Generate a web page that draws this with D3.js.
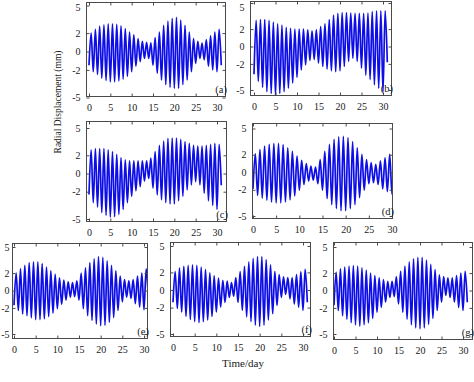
<!DOCTYPE html>
<html><head><meta charset="utf-8">
<script src="https://cdn.jsdelivr.net/npm/d3@7"></script>
<style>
body{margin:0;background:#fff}
svg{display:block}
text{font-family:"Liberation Serif","Times New Roman",serif;fill:#1a1a1a}
</style>
</head><body>
<svg id="chart" width="474" height="382"></svg>
<script>
// ---------- data ----------
const panelNames = ["(a)", "(b)", "(c)", "(d)", "(e)", "(f)", "(g)"];
const xTickValues = [0, 5, 10, 15, 20, 25, 30];
const yTickValues = [-5, -2, 0, 2, 5];
const xTitle = "Time/day";
const yTitle = "Radial Displacement (mm)";

// times (days) of the wave crests and troughs
const peakDays = [0.5,1.5,2.5,3.5,4.5,5.5,6.5,7.5,8.5,9.5,10.5,11.5,12.5,13.5,14.5,15.5,16.5,17.5,18.5,19.5,20.5,21.5,22.5,23.5,24.5,25.5,26.5,27.5,28.5,29.5,30.5];
const troughDays = [1,2,3,4,5,6,7,8,9,10,11,12,13,14,15,16,17,18,19,20,21,22,23,24,25,26,27,28,29,30];
const edgeDays = [0, 31];

// displacement (mm) at crests, troughs, and [start, end] for each panel
const peaksA = [2.0,2.4,2.75,2.9,3.0,3.0,2.95,2.8,2.5,2.1,1.8,1.4,1.1,1.0,0.95,1.5,2.1,2.85,3.3,3.6,3.7,3.4,2.85,2.1,1.4,1.1,0.9,1.3,1.7,2.1,2.4];
const troughsA = [-2.2,-2.5,-2.9,-3.15,-3.3,-3.3,-3.2,-3.0,-2.7,-2.2,-1.6,-1.1,-0.75,-0.75,-1.5,-2.35,-3.1,-3.6,-3.9,-4.0,-4.0,-3.6,-3.1,-2.2,-1.3,-0.75,-0.9,-1.6,-2.0,-2.2];
const edgesA = [-1.5, -1.5];

const peaksB = [3.0,3.1,3.1,3.0,2.8,2.6,2.45,2.2,2.1,2.0,2.0,2.0,1.9,1.8,1.9,2.3,2.6,3.1,3.6,3.8,3.9,3.9,3.85,3.8,3.8,3.8,3.85,4.0,4.1,4.1,4.1];
const troughsB = [-4.0,-4.7,-5.2,-5.4,-5.6,-5.4,-5.2,-4.8,-4.2,-3.55,-2.7,-2.1,-1.6,-1.5,-1.9,-2.3,-2.6,-2.8,-2.9,-2.8,-2.3,-1.7,-1.35,-1.7,-2.5,-3.3,-3.8,-4.4,-4.8,-5.2];
const edgesB = [-3.2, -1.8];

const peaksC = [2.6,2.75,2.75,2.75,2.6,2.4,2.1,1.75,1.5,1.4,1.4,1.4,1.4,1.4,1.7,2.4,3.1,3.55,3.85,3.9,3.9,3.75,3.5,3.3,3.1,3.0,3.0,3.1,3.2,3.3,3.2];
const troughsC = [-3.2,-3.7,-4.3,-4.6,-4.8,-4.75,-4.5,-3.95,-3.2,-2.5,-1.9,-1.45,-0.85,-0.55,-1.6,-2.35,-2.9,-3.2,-3.35,-3.35,-3.0,-2.5,-1.8,-1.25,-0.9,-1.25,-2.15,-3.0,-3.5,-3.95];
const edgesC = [-2.3, -1.3];

const peaksD = [2.1,2.6,3.0,3.2,3.3,3.3,3.15,2.8,2.4,1.85,1.35,1.0,0.7,0.6,1.45,2.4,3.2,3.75,4.05,4.1,3.95,3.5,2.8,2.05,1.45,1.1,0.9,1.3,1.65,2.05,2.25];
const troughsD = [-2.65,-2.95,-3.2,-3.4,-3.5,-3.5,-3.4,-3.15,-2.7,-2.05,-1.4,-1.0,-0.9,-1.3,-2.05,-3.0,-3.7,-4.15,-4.4,-4.4,-4.15,-3.7,-2.9,-2.05,-1.3,-1.2,-1.4,-1.9,-2.2,-2.5];
const edgesD = [-1.9, 0.0];

const peaksE = [2.0,2.5,2.9,3.2,3.3,3.3,3.1,2.7,2.25,1.85,1.45,1.2,1.0,0.9,1.1,2.0,2.6,3.2,3.65,3.9,3.8,3.4,2.9,2.25,1.65,1.25,1.1,1.25,1.65,2.0,2.5];
const troughsE = [-2.3,-2.7,-2.9,-3.15,-3.35,-3.35,-3.25,-3.0,-2.6,-2.1,-1.6,-1.1,-0.75,-0.7,-1.1,-2.1,-2.9,-3.45,-3.85,-4.05,-4.0,-3.65,-3.1,-2.3,-1.3,-0.75,-0.9,-1.5,-1.9,-2.2];
const edgesE = [-1.7, -1.1];

const peaksF = [2.1,2.5,2.7,2.8,2.85,2.8,2.6,2.35,1.95,1.6,1.35,1.1,1.0,0.85,1.4,2.1,2.7,3.2,3.6,3.8,3.8,3.45,2.85,2.1,1.75,1.5,1.4,1.4,1.75,2.05,2.35];
const troughsF = [-2.1,-2.5,-3.0,-3.35,-3.6,-3.7,-3.6,-3.4,-3.0,-2.5,-1.95,-1.4,-0.85,-0.7,-1.4,-2.3,-3.05,-3.6,-4.0,-4.15,-4.0,-3.4,-2.7,-1.75,-0.85,-0.5,-1.0,-1.6,-1.95,-2.3];
const edgesF = [-1.4, -1.4];

const peaksG = [2.1,2.5,2.7,2.8,2.85,2.8,2.6,2.35,2.0,1.7,1.45,1.25,1.05,1.05,1.6,2.2,2.8,3.3,3.65,3.8,3.8,3.5,3.0,2.4,1.8,1.6,1.45,1.45,1.7,2.0,2.2];
const troughsG = [-2.3,-2.9,-3.3,-3.7,-3.95,-4.1,-3.95,-3.7,-3.2,-2.5,-1.95,-1.35,-0.8,-0.7,-1.55,-2.5,-3.3,-3.95,-4.3,-4.4,-4.3,-3.9,-3.2,-2.3,-1.35,-0.55,-0.8,-1.35,-1.95,-2.3];
const edgesG = [-1.7, -1.35];

const seriesPeaks = [peaksA, peaksB, peaksC, peaksD, peaksE, peaksF, peaksG];
const seriesTroughs = [troughsA, troughsB, troughsC, troughsD, troughsE, troughsF, troughsG];
const seriesEdges = [edgesA, edgesB, edgesC, edgesD, edgesE, edgesF, edgesG];

// ---------- layout (pixels) ----------
const layout = [
  {L:86,  T:2,   R:226, B:97,  x0:89,  x30:217, y5:5.5,  ym5:97.5, pad:6},
  {L:250, T:1,   R:392, B:96,  x0:254, x30:383, y5:3,    ym5:90,   pad:6},
  {L:86,  T:121, R:227, B:222, x0:89,  x30:217, y5:128,  ym5:219,  pad:6},
  {L:252, T:123, R:393, B:219, x0:253, x30:392, y5:128.5,ym5:216,  pad:6},
  {L:12,  T:243, R:148, B:339, x0:14,  x30:144, y5:247,  ym5:334,  pad:3},
  {L:170, T:242, R:311, B:337, x0:173, x30:303, y5:246,  ym5:334,  pad:6},
  {L:333, T:242, R:473, B:340, x0:334, x30:463, y5:247,  ym5:334,  pad:6}
];

const svg = d3.select("#chart");
const blue = "#0d0de8";
const frameColor = "#4a4a4a";
const labelFont = "Liberation Serif, Times New Roman, serif";

layout.forEach((p, k) => {
  const x = d3.scaleLinear().domain([0, 30]).range([p.x0, p.x30]);
  const y = d3.scaleLinear().domain([-5, 5]).range([p.ym5, p.y5]);
  const g = svg.append("g");

  const clipId = "clip" + k;
  svg.append("clipPath").attr("id", clipId)
    .append("rect").attr("x", p.L).attr("y", p.T)
    .attr("width", p.R - p.L).attr("height", p.B - p.T);

  const pk = seriesPeaks[k], tr = seriesTroughs[k], ed = seriesEdges[k];
  const pts = [{t: edgeDays[0], v: ed[0]}];
  peakDays.forEach((d, i) => {
    pts.push({t: d, v: pk[i]});
    if (i < troughDays.length) pts.push({t: troughDays[i], v: tr[i]});
  });
  pts.push({t: edgeDays[1], v: ed[1]});

  const line = d3.line().x(d => x(d.t)).y(d => y(d.v)).curve(d3.curveMonotoneX);
  g.append("path").datum(pts)
    .attr("clip-path", `url(#${clipId})`)
    .attr("fill", "none").attr("stroke", blue)
    .attr("stroke-width", 1.7).attr("stroke-linejoin", "round")
    .attr("d", line);

  g.append("rect").attr("x", p.L + 0.5).attr("y", p.T + 0.5)
    .attr("width", p.R - p.L - 1).attr("height", p.B - p.T - 1)
    .attr("fill", "none").attr("stroke", frameColor).attr("stroke-width", 1);

  const xAxis = d3.axisBottom(x).tickValues(xTickValues).tickSize(-3).tickPadding(7).tickFormat(d3.format("d"));
  const gx = g.append("g").attr("transform", `translate(0,${p.B - 0.5})`).call(xAxis);
  gx.select(".domain").remove();
  gx.selectAll(".tick line").attr("stroke", frameColor);
  gx.selectAll(".tick text").attr("font-size", 10).attr("font-family", labelFont).attr("fill", "#1a1a1a");
  const xTop = d3.axisTop(x).tickValues(xTickValues).tickSize(-3).tickFormat("");
  const gxt = g.append("g").attr("transform", `translate(0,${p.T + 0.5})`).call(xTop);
  gxt.select(".domain").remove();
  gxt.selectAll(".tick line").attr("stroke", frameColor);

  const yAxis = d3.axisLeft(y).tickValues(yTickValues).tickSize(-3).tickPadding(p.pad)
    .tickFormat(d => d < 0 ? "-" + Math.abs(d) : String(d));
  const gy = g.append("g").attr("transform", `translate(${p.L + 0.5},0)`).call(yAxis);
  gy.select(".domain").remove();
  gy.selectAll(".tick line").attr("stroke", frameColor);
  gy.selectAll(".tick text").attr("font-size", 10).attr("font-family", labelFont).attr("fill", "#1a1a1a");
  // keep the top label inside the picture
  gy.selectAll(".tick").each(function(d) {
    const ty = y(d);
    if (ty < 7) d3.select(this).select("text").attr("y", 7 - ty);
  });
  const yRight = d3.axisRight(y).tickValues(yTickValues).tickSize(-3).tickFormat("");
  const gyr = g.append("g").attr("transform", `translate(${p.R - 0.5},0)`).call(yRight);
  gyr.select(".domain").remove();
  gyr.selectAll(".tick line").attr("stroke", frameColor);

  g.append("text").attr("x", p.R + 1).attr("y", p.B - 4)
    .attr("text-anchor", "end").attr("font-size", 10.5)
    .text(panelNames[k]);
});

svg.append("text").attr("x", 243).attr("y", 367)
  .attr("text-anchor", "middle").attr("font-size", 11).text(xTitle);
svg.append("text").attr("transform", "translate(61,102) rotate(-90)")
  .attr("text-anchor", "middle").attr("font-size", 9.5).text(yTitle);
</script>
</body></html>
